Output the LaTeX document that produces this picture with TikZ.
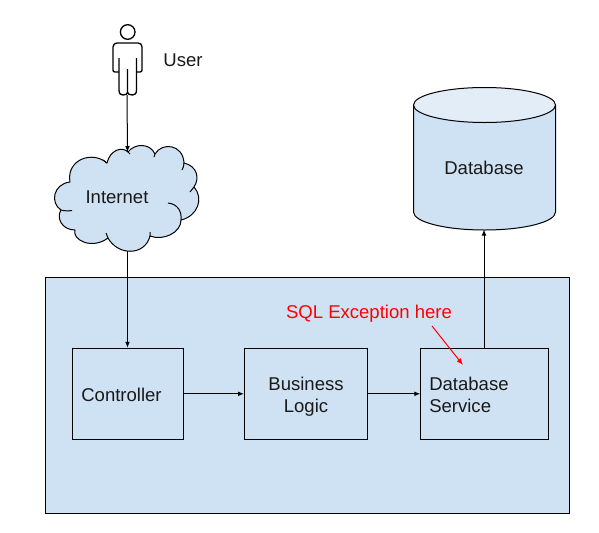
\documentclass[tikz,border=0pt]{standalone}
\usepackage{fontspec}
\setmainfont{Liberation Sans}
\usetikzlibrary{arrows.meta}
\definecolor{paleblue}{HTML}{CFE2F3}
\definecolor{lightblue}{HTML}{E2EDF8}
\tikzset{
  x=0.75pt,y=-0.75pt,
  boxnode/.style={draw=black,fill=paleblue,line width=0.75pt,inner sep=0pt,anchor=north west},
  label/.style={font=\fontsize{13.9}{16.6}\selectfont,inner sep=0pt,text=black!90},
  conn/.style={draw=black,line width=0.75pt,-{Latex[length=4.5pt,width=3.6pt]}},
  shapeline/.style={draw=black,line width=0.75pt,line join=round},
}
\begin{document}
\begin{tikzpicture}
\useasboundingbox (0,0) rectangle (599,532);
% container
\node[boxnode,minimum width=392.75pt,minimum height=177pt] (frame) at (45,276.7) {};
% boxes
\node[boxnode,minimum width=83pt,minimum height=68.25pt] (controller) at (72.3,347.8) {};
\node[boxnode,minimum width=92.5pt,minimum height=68.25pt] (logic) at (244,347.8) {};
\node[boxnode,minimum width=96pt,minimum height=68.25pt] (service) at (420.3,347.8) {};
\node[label,anchor=center] (controllertext) at (121.5,395) {Controller};
\node[label,align=center,anchor=center] (logictext) at (306,396.3) {Business\\Logic};
\node[label,align=left,anchor=west] (servicetext) at (429,394.7) {Database\\Service};
% cloud
\coordinate (cloudtop) at (127.5,152);
\coordinate (cloudbottom) at (127.5,251);
\path[shapeline,fill=paleblue]
 (107,163) .. controls (110,150) and (122,146) .. (128,152)
 .. controls (135,143) and (150,143) .. (155,154)
 .. controls (162,142) and (183,144) .. (184,163)
 .. controls (197,166) and (200,178) .. (194,187)
 .. controls (204,198) and (198,216) .. (181,220)
 .. controls (181,233) and (163,241) .. (150,236)
 .. controls (145,256) and (118,256) .. (108,238)
 .. controls (92,250) and (72,240) .. (75,230)
 .. controls (62,230) and (56,218) .. (61,210)
 .. controls (50,203) and (53,184) .. (70,182)
 .. controls (66,160) and (92,150) .. (107,163) -- cycle;
\draw[shapeline] (181,220) .. controls (182,212) and (178,204) .. (168,203)
 (61,210) .. controls (64,211) and (69,211) .. (72,210.5)
 (107,163) .. controls (106,162) and (104,161) .. (103,160)
 (128,152) -- (130,154)
 (155,154) -- (154,157)
 (184,163) .. controls (184,166) and (183,168) .. (182,170)
 (194,187) -- (190,192)
 (150,236) -- (150,232)
 (108,238) -- (106,233);
\node[label,anchor=center] (internet) at (117,197) {Internet};
% cylinder
\coordinate (dbbottom) at (484,229.5);
\path[shapeline,fill=paleblue] (413.5,105) -- (413.5,212) .. controls (413.5,222) and (445,230) .. (484.5,230) .. controls (524,230) and (555.5,222) .. (555.5,212) -- (555.5,105) -- cycle;
\draw[shapeline,fill=lightblue] (484.5,105) ellipse[x radius=71,y radius=17.5];
\node[label,anchor=center] (db) at (484,168) {Database};
% person
\draw[shapeline,line width=1pt] (127.7,32) circle[radius=7.3];
\draw[shapeline,line width=1pt] (127.5,69) -- (127.5,92)
 (119,58) -- (119,90) .. controls (119,94) and (121,95) .. (123,95) .. controls (126,95) and (127.5,94) .. (127.5,92)
 (136.5,58) -- (136.5,90) .. controls (136.5,94) and (134.5,95) .. (132.5,95) .. controls (129.5,95) and (127.5,94) .. (127.5,92)
 (119,72) -- (115,72) .. controls (113.5,72) and (113,71) .. (113,70) -- (113,47) .. controls (113,44.5) and (115,43) .. (117,43) -- (138,43) .. controls (140.5,43) and (142,44.5) .. (142,47) -- (142,70) .. controls (142,71) and (141.5,72) .. (140,72) -- (136.5,72);
\coordinate (userfoot) at (127,95);
\node[label,anchor=center] (user) at (183,60) {User};
% connectors
\draw[conn] (userfoot) -- (cloudtop);
\draw[conn] (cloudbottom) -- (controller.north -| cloudbottom);
\draw[conn] (controller.east) -- (logic.west);
\draw[conn] (logic.east) -- (service.west);
\draw[conn] (service.north -| dbbottom) -- (dbbottom);
% red note
\node[label,text=red,anchor=center] (sql) at (369,314) {SQL Exception here};
\coordinate (redstart) at (432,326);
\coordinate (redend) at (463,365);
\draw[red,line width=0.75pt,-{Latex[length=5pt,width=4pt]}] (redstart) -- (redend);
\end{tikzpicture}
\end{document}
